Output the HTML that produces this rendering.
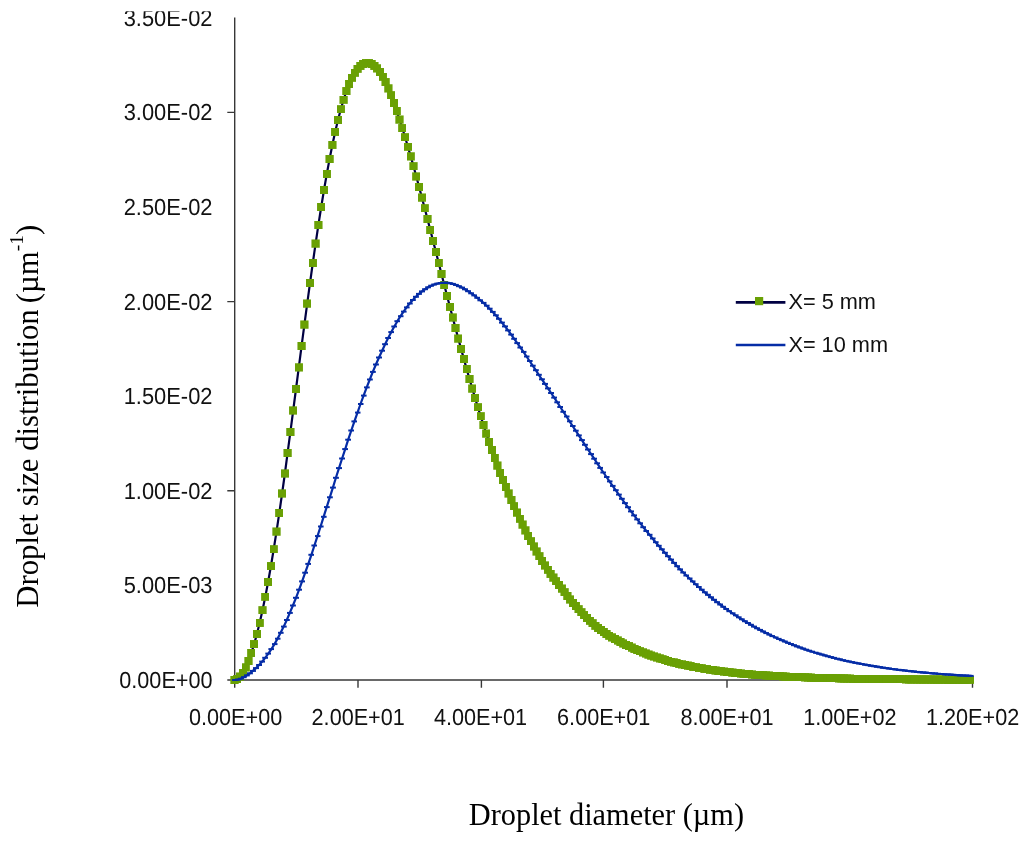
<!DOCTYPE html>
<html lang="en"><head><meta charset="utf-8"><title>Droplet size distribution</title>
<style>
html,body{margin:0;padding:0;background:#fff}
body{width:1024px;height:841px;overflow:hidden}
svg{display:block}
.t{font-family:"Liberation Sans",sans-serif;font-size:23.3px;fill:#111;text-rendering:geometricPrecision}
.l{font-family:"Liberation Sans",sans-serif;font-size:22.5px;fill:#111}
.s{font-family:"Liberation Serif",serif;font-size:30px;fill:#000}
</style></head><body>
<svg width="1024" height="841" viewBox="0 0 1024 841">
<defs>
<marker id="mg" markerWidth="8.3" markerHeight="8.3" refX="4.15" refY="4.15" markerUnits="userSpaceOnUse"><rect width="8.3" height="8.3" fill="#69a004"/></marker>
<marker id="mb" markerWidth="6" markerHeight="6" refX="3" refY="3" markerUnits="userSpaceOnUse"><path d="M0 3H6" stroke="#052ca6" stroke-width="2" fill="none"/></marker>
</defs>
<rect width="1024" height="841" fill="#fff"/>

<g stroke="#383838" stroke-width="1.4" fill="none">
<path d="M234.7 17.5V687.7M227.3 680.0H972.8"/>
<path d="M227.3 490.8H234.7M227.3 301.6H234.7M227.3 112.4H234.7M358.0 680.0V687.7M481.4 680.0V687.7M603.4 680.0V687.7M727.0 680.0V687.7M972.5 680.0V687.7"/></g>
<text class="t" x="212.5" y="687.9" text-anchor="end" textLength="93.2" lengthAdjust="spacingAndGlyphs">0.00E+00</text>
<text class="t" x="212.5" y="593.3" text-anchor="end" textLength="88.8" lengthAdjust="spacingAndGlyphs">5.00E-03</text>
<text class="t" x="212.5" y="498.7" text-anchor="end" textLength="88.8" lengthAdjust="spacingAndGlyphs">1.00E-02</text>
<text class="t" x="212.5" y="404.1" text-anchor="end" textLength="88.8" lengthAdjust="spacingAndGlyphs">1.50E-02</text>
<text class="t" x="212.5" y="309.5" text-anchor="end" textLength="88.8" lengthAdjust="spacingAndGlyphs">2.00E-02</text>
<text class="t" x="212.5" y="214.9" text-anchor="end" textLength="88.8" lengthAdjust="spacingAndGlyphs">2.50E-02</text>
<text class="t" x="212.5" y="120.3" text-anchor="end" textLength="88.8" lengthAdjust="spacingAndGlyphs">3.00E-02</text>
<text class="t" x="212.5" y="25.7" text-anchor="end" textLength="88.8" lengthAdjust="spacingAndGlyphs">3.50E-02</text>
<rect x="110" y="0" width="112" height="11.3" fill="#fff"/>
<text class="t" x="235.6" y="724.8" text-anchor="middle" textLength="93.2" lengthAdjust="spacingAndGlyphs">0.00E+00</text>
<text class="t" x="358.2" y="724.8" text-anchor="middle" textLength="93.2" lengthAdjust="spacingAndGlyphs">2.00E+01</text>
<text class="t" x="480.5" y="724.8" text-anchor="middle" textLength="93.2" lengthAdjust="spacingAndGlyphs">4.00E+01</text>
<text class="t" x="603.7" y="724.8" text-anchor="middle" textLength="93.2" lengthAdjust="spacingAndGlyphs">6.00E+01</text>
<text class="t" x="727.0" y="724.8" text-anchor="middle" textLength="93.2" lengthAdjust="spacingAndGlyphs">8.00E+01</text>
<text class="t" x="849.9" y="724.8" text-anchor="middle" textLength="93.2" lengthAdjust="spacingAndGlyphs">1.00E+02</text>
<text class="t" x="972.6" y="724.8" text-anchor="middle" textLength="93.2" lengthAdjust="spacingAndGlyphs">1.20E+02</text>
<polyline points="234.5,680.0 237.3,679.1 240.1,676.6 242.9,672.7 245.7,667.4 248.5,660.9 251.3,653.1 254.1,644.2 256.9,634.1 259.7,622.8 262.5,610.3 265.3,596.7 268.1,582.0 270.9,566.2 273.7,549.3 276.5,531.6 279.3,512.9 282.1,493.5 284.9,473.5 287.6,452.9 290.4,431.9 293.2,410.5 296.0,389.0 298.8,367.4 301.6,345.9 304.4,324.6 307.2,303.6 310.0,283.1 312.8,263.0 315.6,243.6 318.4,224.9 321.2,207.0 324.0,190.0 326.8,173.9 329.6,158.9 332.4,144.8 335.2,131.8 338.0,120.0 340.8,109.3 343.6,99.7 346.4,91.2 349.2,83.9 352.0,77.7 354.8,72.7 357.6,68.7 360.4,65.8 363.2,64.0 366.0,63.2 368.8,63.2 371.6,64.1 374.4,65.8 377.2,68.4 380.0,72.1 382.8,76.7 385.6,82.2 388.4,88.4 391.2,95.3 393.9,102.9 396.7,111.1 399.5,119.6 402.3,128.2 405.1,137.3 407.9,146.7 410.7,156.4 413.5,166.3 416.3,176.5 419.1,187.0 421.9,197.6 424.7,208.3 427.5,219.1 430.3,230.0 433.1,241.0 435.9,252.0 438.7,263.0 441.5,274.0 444.3,285.0 447.1,295.9 449.9,306.8 452.7,317.5 455.5,328.1 458.3,338.6 461.1,348.9 463.9,359.1 466.7,369.1 469.5,379.0 472.3,388.6 475.1,398.1 477.9,407.3 480.7,416.3 483.5,425.1 486.3,433.6 489.1,441.9 491.9,450.0 494.7,457.9 497.4,465.6 500.2,473.0 503.0,480.1 505.8,486.9 508.6,493.5 511.4,499.9 514.2,506.3 517.0,512.6 519.8,518.7 522.6,524.6 525.4,530.4 528.2,535.9 531.0,541.3 533.8,546.5 536.6,551.5 539.4,556.3 542.2,561.0 545.0,565.5 547.8,569.7 550.6,573.8 553.4,577.6 556.2,581.3 559.0,585.0 561.8,588.6 564.6,592.3 567.4,596.0 570.2,599.5 573.0,602.9 575.8,606.1 578.6,609.3 581.4,612.3 584.2,615.2 587.0,618.0 589.8,620.7 592.6,623.3 595.4,625.7 598.2,627.9 601.0,630.0 603.7,632.0 606.5,633.9 609.3,635.7 612.1,637.4 614.9,639.0 617.7,640.5 620.5,642.0 623.3,643.5 626.1,644.9 628.9,646.2 631.7,647.6 634.5,648.8 637.3,650.1 640.1,651.3 642.9,652.4 645.7,653.5 648.5,654.6 651.3,655.6 654.1,656.5 656.9,657.5 659.7,658.4 662.5,659.3 665.3,660.1 668.1,660.9 670.9,661.7 673.7,662.4 676.5,663.1 679.3,663.8 682.1,664.4 684.9,665.0 687.7,665.6 690.5,666.2 693.3,666.8 696.1,667.3 698.9,667.8 701.7,668.3 704.5,668.8 707.3,669.2 710.0,669.7 712.8,670.1 715.6,670.5 718.4,670.9 721.2,671.3 724.0,671.6 726.8,672.0 729.6,672.3 732.4,672.6 735.2,672.9 738.0,673.2 740.8,673.5 743.6,673.7 746.4,674.0 749.2,674.2 752.0,674.5 754.8,674.7 757.6,674.9 760.4,675.1 763.2,675.3 766.0,675.5 768.8,675.6 771.6,675.8 774.4,676.0 777.2,676.1 780.0,676.3 782.8,676.4 785.6,676.6 788.4,676.7 791.2,676.8 794.0,676.9 796.8,677.1 799.6,677.2 802.4,677.3 805.2,677.4 808.0,677.5 810.8,677.6 813.5,677.7 816.3,677.8 819.1,677.9 821.9,677.9 824.7,678.0 827.5,678.1 830.3,678.2 833.1,678.2 835.9,678.3 838.7,678.4 841.5,678.4 844.3,678.5 847.1,678.6 849.9,678.6 852.7,678.7 855.5,678.7 858.3,678.8 861.1,678.8 863.9,678.9 866.7,678.9 869.5,678.9 872.3,679.0 875.1,679.0 877.9,679.1 880.7,679.1 883.5,679.1 886.3,679.2 889.1,679.2 891.9,679.2 894.7,679.3 897.5,679.3 900.3,679.3 903.1,679.3 905.9,679.4 908.7,679.4 911.5,679.4 914.3,679.4 917.1,679.5 919.8,679.5 922.6,679.5 925.4,679.5 928.2,679.5 931.0,679.6 933.8,679.6 936.6,679.6 939.4,679.6 942.2,679.6 945.0,679.6 947.8,679.7 950.6,679.7 953.4,679.7 956.2,679.7 959.0,679.7 961.8,679.7 964.6,679.7 967.4,679.7 970.2,679.7" fill="none" stroke="#000042" stroke-width="2.2" stroke-linejoin="round" marker-start="url(#mg)" marker-mid="url(#mg)" marker-end="url(#mg)"/>
<polyline points="234.5,680.0 237.6,679.6 240.6,678.7 243.7,677.2 246.8,675.4 249.9,673.3 252.9,670.9 256.0,668.1 259.1,665.0 262.2,661.6 265.2,657.8 268.3,653.6 271.4,649.1 274.5,644.1 277.5,638.7 280.6,632.8 283.7,626.6 286.8,620.0 289.8,612.9 292.9,605.5 296.0,597.8 299.1,589.7 302.1,581.4 305.2,572.7 308.3,563.9 311.4,554.8 314.4,545.5 317.5,536.1 320.6,526.5 323.6,516.8 326.7,507.1 329.8,497.3 332.9,487.6 335.9,477.8 339.0,468.1 342.1,458.5 345.2,449.1 348.2,439.7 351.3,430.5 354.4,421.4 357.5,412.6 360.5,404.0 363.6,395.6 366.7,387.4 369.8,379.5 372.8,371.9 375.9,364.5 379.0,357.5 382.1,350.7 385.1,344.2 388.2,338.0 391.3,332.1 394.3,326.5 397.4,321.2 400.5,316.2 403.6,311.6 406.6,307.4 409.7,303.5 412.8,300.0 415.9,296.8 418.9,293.9 422.0,291.4 425.1,289.2 428.2,287.3 431.2,285.7 434.3,284.5 437.4,283.6 440.5,283.0 443.5,282.8 446.6,282.8 449.7,283.2 452.8,283.9 455.8,284.9 458.9,286.2 462.0,287.6 465.0,289.3 468.1,291.2 471.2,293.3 474.3,295.4 477.3,297.8 480.4,300.3 483.5,302.9 486.6,305.7 489.6,308.7 492.7,311.9 495.8,315.3 498.9,318.8 501.9,322.6 505.0,326.4 508.1,330.4 511.2,334.6 514.2,338.8 517.3,343.1 520.4,347.5 523.5,351.9 526.5,356.5 529.6,361.0 532.7,365.7 535.8,370.2 538.8,374.8 541.9,379.3 545.0,383.9 548.0,388.4 551.1,393.0 554.2,397.6 557.3,402.3 560.3,407.0 563.4,411.8 566.5,416.5 569.6,421.3 572.6,426.0 575.7,430.7 578.8,435.4 581.9,440.1 584.9,444.8 588.0,449.5 591.1,454.1 594.2,458.7 597.2,463.3 600.3,467.9 603.4,472.5 606.5,477.0 609.5,481.4 612.6,485.9 615.7,490.2 618.8,494.6 621.8,498.8 624.9,503.1 628.0,507.2 631.0,511.4 634.1,515.4 637.2,519.4 640.3,523.3 643.3,527.2 646.4,531.0 649.5,534.8 652.6,538.5 655.6,542.2 658.7,545.8 661.8,549.3 664.9,552.8 667.9,556.2 671.0,559.6 674.1,562.9 677.2,566.2 680.2,569.4 683.3,572.5 686.4,575.5 689.5,578.5 692.5,581.4 695.6,584.2 698.7,587.0 701.7,589.7 704.8,592.3 707.9,594.8 711.0,597.3 714.0,599.8 717.1,602.2 720.2,604.5 723.3,606.8 726.3,609.0 729.4,611.2 732.5,613.3 735.6,615.3 738.6,617.3 741.7,619.3 744.8,621.2 747.9,623.0 750.9,624.8 754.0,626.6 757.1,628.3 760.2,629.9 763.2,631.5 766.3,633.1 769.4,634.6 772.4,636.1 775.5,637.5 778.6,638.9 781.7,640.2 784.7,641.5 787.8,642.8 790.9,644.0 794.0,645.2 797.0,646.4 800.1,647.5 803.2,648.6 806.3,649.7 809.3,650.7 812.4,651.7 815.5,652.7 818.6,653.6 821.6,654.5 824.7,655.4 827.8,656.3 830.9,657.1 833.9,657.9 837.0,658.7 840.1,659.4 843.2,660.2 846.2,660.9 849.3,661.5 852.4,662.2 855.4,662.8 858.5,663.4 861.6,664.0 864.7,664.6 867.7,665.1 870.8,665.7 873.9,666.2 877.0,666.7 880.0,667.2 883.1,667.7 886.2,668.1 889.3,668.5 892.3,669.0 895.4,669.4 898.5,669.8 901.6,670.1 904.6,670.5 907.7,670.9 910.8,671.2 913.9,671.5 916.9,671.9 920.0,672.2 923.1,672.5 926.1,672.7 929.2,673.0 932.3,673.3 935.4,673.5 938.4,673.8 941.5,674.0 944.6,674.3 947.7,674.5 950.7,674.7 953.8,674.9 956.9,675.1 960.0,675.3 963.0,675.5 966.1,675.6 969.2,675.8 970.7,675.9" fill="none" stroke="#052ca6" stroke-width="2.2" stroke-linejoin="round" marker-start="url(#mb)" marker-mid="url(#mb)" marker-end="url(#mb)"/>
<path d="M735.8 302.4H785.4" stroke="#000042" stroke-width="2.8"/><rect x="755" y="297" width="8.2" height="8.2" fill="#69a004"/>
<path d="M735.8 345.05H785.4" stroke="#052ca6" stroke-width="2.5"/>
<text class="l" x="788.4" y="309" textLength="87.6" lengthAdjust="spacingAndGlyphs">X= 5 mm</text>
<text class="l" x="788.4" y="352.4" textLength="99.6" lengthAdjust="spacingAndGlyphs">X= 10 mm</text>
<text class="s" style="font-size:30.5px" x="468.8" y="824.8" textLength="275.2" lengthAdjust="spacingAndGlyphs">Droplet diameter (µm)</text>
<text class="s" style="font-size:30.7px" transform="translate(38.4 607.7) rotate(-90)" textLength="298.4" lengthAdjust="spacingAndGlyphs">Droplet size distribution</text>
<text class="s" style="font-size:30.7px" transform="translate(38.4 303.2) rotate(-90)" textLength="78.4" lengthAdjust="spacingAndGlyphs">(µm<tspan font-size="19.5" dy="-15">-1</tspan><tspan dy="15">)</tspan></text>
</svg></body></html>
